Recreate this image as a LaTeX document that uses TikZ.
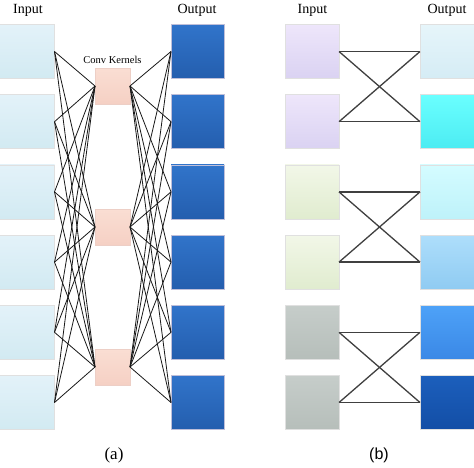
\documentclass[tikz,border=0pt]{standalone}
\usepackage{fontspec}
\setmainfont{Liberation Serif}
\newfontfamily\labsans{Liberation Sans}
\begin{document}
\begin{tikzpicture}[x=1pt,y=-1pt,
  box/.style={draw=#1, line width=0.7pt, inner sep=0pt, outer sep=0pt, minimum height=54pt},
  inA/.style={box=black!12, minimum width=56pt, top color=inAtop, bottom color=inAbot},
  outA/.style={box=blue!25!gray!40, minimum width=53pt, top color=outAtop, bottom color=outAbot},
  kern/.style={draw=kernB, line width=0.6pt, inner sep=0pt, outer sep=0pt, minimum width=35pt, minimum height=36pt, top color=kernT, bottom color=kernBo},
  inB/.style={box=black!12, minimum width=54pt},
  outB/.style={box=black!12, minimum width=56pt},
  linkA/.style={black!90, line width=0.8pt},
  linkB/.style={black!75, line width=1.3pt},
  lab/.style={font=\fontsize{14}{16}\selectfont, inner sep=0pt},
  klab/.style={font=\fontsize{10.5}{12}\selectfont, inner sep=0pt}
]
\definecolor{inAtop}{HTML}{E3F2F9}
\definecolor{inAbot}{HTML}{D2EAF2}
\definecolor{outAtop}{HTML}{3174CA}
\definecolor{outAbot}{HTML}{245EAE}
\definecolor{kernT}{HTML}{FADED3}
\definecolor{kernBo}{HTML}{F5D0C4}
\definecolor{kernB}{HTML}{EDCFC6}
\definecolor{lavT}{HTML}{EEE6FB}
\definecolor{lavB}{HTML}{DAD2F2}
\definecolor{grnT}{HTML}{F2F7E8}
\definecolor{grnB}{HTML}{E0ECCF}
\definecolor{gryT}{HTML}{C6CDCA}
\definecolor{gryB}{HTML}{B6BEBA}
\definecolor{o1T}{HTML}{E6F5FA}
\definecolor{o1B}{HTML}{D5ECF5}
\definecolor{o2T}{HTML}{6AFFFF}
\definecolor{o2B}{HTML}{4CECF2}
\definecolor{o3T}{HTML}{D4FCFF}
\definecolor{o3B}{HTML}{BEF2FA}
\definecolor{o4T}{HTML}{AEDEFB}
\definecolor{o4B}{HTML}{8FCBF2}
\definecolor{o5T}{HTML}{4EA2F8}
\definecolor{o5B}{HTML}{3A88E6}
\definecolor{o6T}{HTML}{1C5FBC}
\definecolor{o6B}{HTML}{134EA6}
\useasboundingbox (0,0) rectangle (474,467);
\fill[white] (0,0) rectangle (474,467);

% ---------- panel (a) ----------
\foreach \i/\y in {1/51.5,2/121.7,3/191.9,4/262.1,5/332.3,6/402.5}{
  \node[inA] (ai\i) at (26.5,\y) {};
  \node[outA] (ao\i) at (197.5,\y) {};
}
\node[kern] (k1) at (112.5,86) {};
\node[kern] (k2) at (112.5,227) {};
\node[kern] (k3) at (112.5,367) {};
\foreach \i in {1,...,6}{
  \foreach \k in {1,2,3}{
    \draw[linkA] (ai\i.east) -- (k\k.west);
    \draw[linkA] (k\k.east) -- (ao\i.west);
  }
}
\node[lab] (tinA) at (28,10.5) {Input};
\node[lab] (toutA) at (197,10.5) {Output};
\node[klab] (tk) at (112.5,60) {Conv Kernels};
\node[font=\fontsize{17}{19}\selectfont, inner sep=0pt] (ta) at (114,455) {(a)};

% ---------- panel (b) ----------
\node[inB, top color=lavT, bottom color=lavB] (bi1) at (312,51.5) {};
\node[inB, top color=lavT, bottom color=lavB] (bi2) at (312,121.7) {};
\node[inB, top color=grnT, bottom color=grnB] (bi3) at (312,191.9) {};
\node[inB, top color=grnT, bottom color=grnB] (bi4) at (312,262.1) {};
\node[inB, top color=gryT, bottom color=gryB] (bi5) at (312,332.3) {};
\node[inB, top color=gryT, bottom color=gryB] (bi6) at (312,402.5) {};
\node[outB, top color=o1T, bottom color=o1B] (bo1) at (448,51.5) {};
\node[outB, top color=o2T, bottom color=o2B] (bo2) at (448,121.7) {};
\node[outB, top color=o3T, bottom color=o3B] (bo3) at (448,191.9) {};
\node[outB, top color=o4T, bottom color=o4B] (bo4) at (448,262.1) {};
\node[outB, top color=o5T, bottom color=o5B] (bo5) at (448,332.3) {};
\node[outB, top color=o6T, bottom color=o6B] (bo6) at (448,402.5) {};
\foreach \a/\b in {1/2,3/4,5/6}{
  \draw[linkB] (bi\a.east) -- (bo\a.west);
  \draw[linkB] (bi\b.east) -- (bo\b.west);
  \draw[linkB] (bi\a.east) -- (bo\b.west);
  \draw[linkB] (bi\b.east) -- (bo\a.west);
}
\node[lab] (tinB) at (312.5,10.5) {Input};
\node[lab] (toutB) at (447,10.5) {Output};
\node[font=\labsans\fontsize{16}{18}\selectfont, inner sep=0pt] (tb) at (379,455) {(b)};
\end{tikzpicture}
\end{document}
